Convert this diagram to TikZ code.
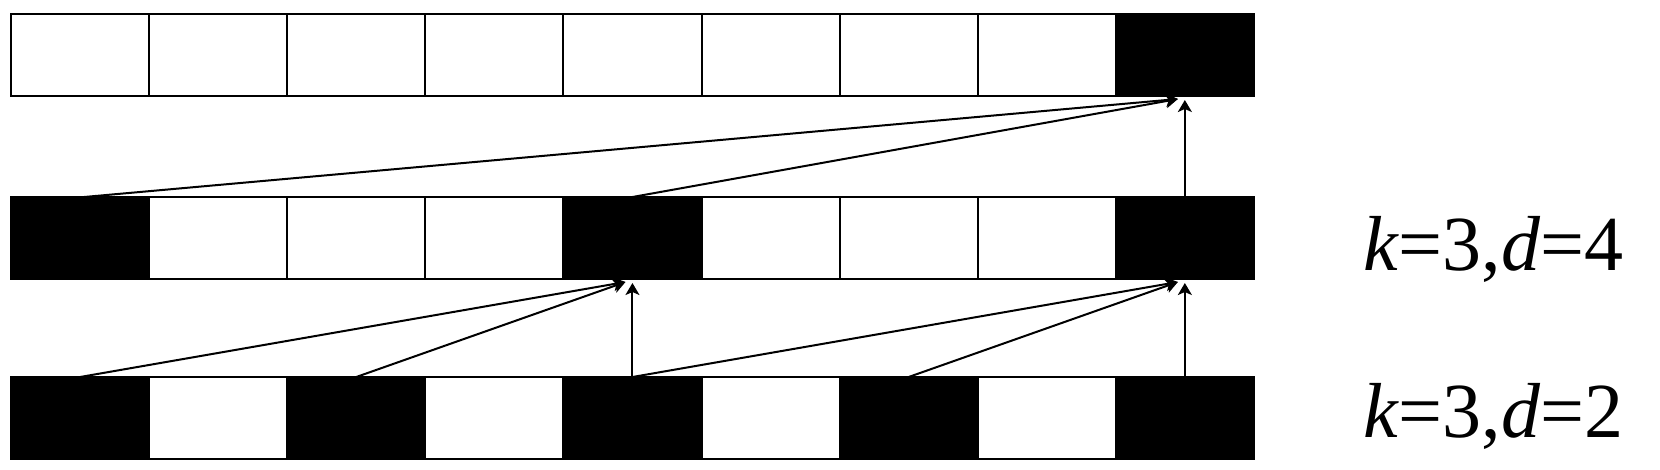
\documentclass[tikz,border=0pt]{standalone}
\usepackage{fontspec}
\setmainfont{Liberation Serif}
\usetikzlibrary{arrows.meta,calc}
\begin{document}
\begin{tikzpicture}[x=1pt,y=-1pt,
  cell/.style={draw=black, line width=2pt, fill=white, minimum width=138.1pt, minimum height=82pt, inner sep=0pt, outer sep=0pt, anchor=north west},
  blk/.style={cell, fill=black},
  conn/.style={line width=2pt, -{Stealth[length=12pt,width=14pt,inset=3pt]}},
  lab/.style={anchor=base west, font=\rmfamily\fontsize{78}{90}\selectfont, inner sep=0pt}]
\useasboundingbox[fill=white] (0,0) rectangle (1660,469);
% row 1
\foreach \i/\s in {0/cell,1/cell,2/cell,3/cell,4/cell,5/cell,6/cell,7/cell,8/blk}
  \node[\s] (a\i) at ({11+138.1*\i},14) {};
% row 2
\foreach \i/\s in {0/blk,1/cell,2/cell,3/cell,4/blk,5/cell,6/cell,7/cell,8/blk}
  \node[\s] (b\i) at ({11+138.1*\i},197) {};
% row 3
\foreach \i/\s in {0/blk,1/cell,2/blk,3/cell,4/blk,5/cell,6/blk,7/cell,8/blk}
  \node[\s] (c\i) at ({11+138.1*\i},377) {};
% connectors row 2 -> row 1
\draw[conn] ($(b0.north)+(4,0)$) -- ($(a8.south)+(-7,3)$);
\draw[conn] (b4.north) -- ($(a8.south)+(-7,3)$);
\draw[conn] (b8.north) -- ($(a8.south)+(0,4)$);
% connectors row 3 -> row 2
\draw[conn] (c0.north) -- ($(b4.south)+(-7,3)$);
\draw[conn] (c2.north) -- ($(b4.south)+(-7,3)$);
\draw[conn] (c4.north) -- ($(b4.south)+(0,4)$);
\draw[conn] (c4.north) -- ($(b8.south)+(-7,3)$);
\draw[conn] (c6.north) -- ($(b8.south)+(-7,3)$);
\draw[conn] (c8.north) -- ($(b8.south)+(0,4)$);
% labels
\node[lab] (l1) at (1363,270) {\textit{k}=3,\textit{d}=4};
\node[lab] (l2) at (1363,437) {\textit{k}=3,\textit{d}=2};
\end{tikzpicture}
\end{document}
